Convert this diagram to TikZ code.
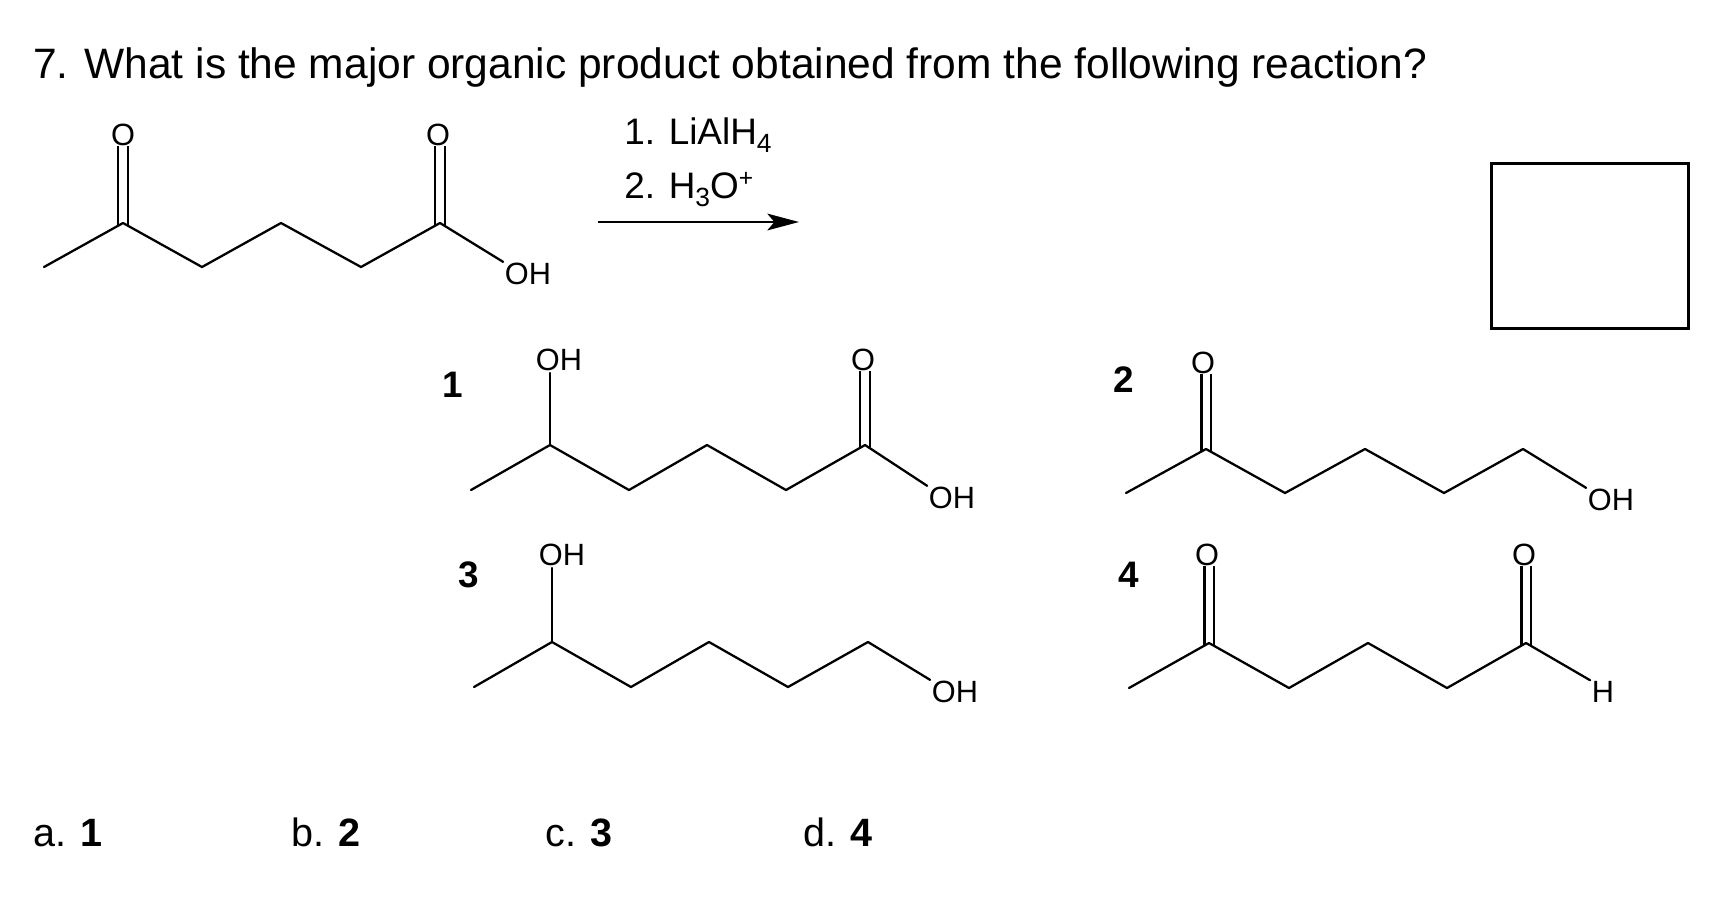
\documentclass[tikz,border=0pt]{standalone}
\usepackage{fontspec}
\setmainfont{Liberation Sans}
\usetikzlibrary{arrows.meta, positioning}
\newcommand{\lowsub}[1]{\raisebox{-5pt}{\fontsize{15}{15}\selectfont #1}}
\newcommand{\highsup}[1]{\raisebox{6.5pt}{\fontsize{14}{14}\selectfont #1}}
\tikzset{
    bond/.style={line width=1.3pt, line cap=round, line join=round, shorten >=1pt},
    dblbond/.style={line width=1.2pt, double, double distance=4pt, shorten <=-1pt},
    atomnode/.style={inner sep=0pt, font=\fontsize{17.5}{20}\selectfont},
    tagnode/.style={inner sep=0pt, font=\fontsize{21}{24}\selectfont\bfseries},
    titlenode/.style={inner sep=0pt, anchor=base west, font=\fontsize{24.2}{28}\selectfont},
    textnode/.style={inner sep=0pt, anchor=base west, font=\fontsize{22.5}{27}\selectfont},
    reagentnode/.style={inner sep=0pt, anchor=base west, font=\fontsize{21}{25}\selectfont}
}
\begin{document}
\begin{tikzpicture}[x=0.02cm, y=-0.02cm]
    \useasboundingbox (0,0) rectangle (1724,910);
    \node[titlenode] (title) at (33,78) {7. What is the major organic product obtained from the following reaction?};
    % starting material
    \coordinate (s1) at (44,267);
    \coordinate (s2) at (123,223);
    \coordinate (s3) at (202,267);
    \coordinate (s4) at (281,223);
    \coordinate (s5) at (361,267);
    \coordinate (s6) at (440,223);
    \node[atomnode] (so1) at (123,135) {O};
    \node[atomnode] (so2) at (438,135) {O};
    \node[atomnode] (soh) at (528,274) {OH};
    \draw[dblbond] (s2) -- (s2 |- so1.south);
    \draw[dblbond] (s6) -- (s6 |- so2.south);
    \draw[bond] (s1) -- (s2) -- (s3) -- (s4) -- (s5) -- (s6) -- (soh.north west);
    % reagents
    \node[reagentnode] (reagent1) at (624,144) {1. LiAlH\lowsub{4}};
    \node[reagentnode] (reagent2) at (624,198) {2. H\lowsub{3}O\highsup{+}};
    \coordinate (arrowstart) at (598,222);
    \coordinate (arrowend) at (799,222);
    \draw[line width=1.3pt, -{Stealth[length=18pt, width=9.5pt, inset=4pt]}] (arrowstart) -- (arrowend);
    % answer box
    \node[draw, line width=1.4pt, inner sep=0pt, minimum width=112pt, minimum height=94pt] (answerbox) at (1590,246) {};
    % product 1
    \node[tagnode] (tag1) at (453,385) {1};
    \coordinate (a1) at (471,490);
    \coordinate (a2) at (550,445);
    \coordinate (a3) at (629,490);
    \coordinate (a4) at (707,445);
    \coordinate (a5) at (786,490);
    \coordinate (a6) at (865,445);
    \node[atomnode] (aoh1) at (559,360) {OH};
    \node[atomnode] (ao) at (863,360) {O};
    \node[atomnode] (aoh2) at (952,498) {OH};
    \draw[bond] (a2) -- (a2 |- aoh1.south);
    \draw[dblbond] (a6) -- (a6 |- ao.south);
    \draw[bond] (a1) -- (a2) -- (a3) -- (a4) -- (a5) -- (a6) -- (aoh2.north west);
    % product 2
    \node[tagnode] (tag2) at (1124,380) {2};
    \coordinate (b1) at (1126,493);
    \coordinate (b2) at (1206,449);
    \coordinate (b3) at (1285,493);
    \coordinate (b4) at (1365,449);
    \coordinate (b5) at (1444,493);
    \coordinate (b6) at (1523,449);
    \node[atomnode] (bo) at (1203,363) {O};
    \node[atomnode] (boh) at (1611,500) {OH};
    \draw[dblbond] (b2) -- (b2 |- bo.south);
    \draw[bond] (b1) -- (b2) -- (b3) -- (b4) -- (b5) -- (b6) -- (boh.north west);
    % product 3
    \node[tagnode] (tag3) at (469,575) {3};
    \coordinate (c1) at (474,687);
    \coordinate (c2) at (552,642);
    \coordinate (c3) at (631,687);
    \coordinate (c4) at (709,642);
    \coordinate (c5) at (788,687);
    \coordinate (c6) at (868,642);
    \node[atomnode] (coh1) at (562,555) {OH};
    \node[atomnode] (coh2) at (955,692) {OH};
    \draw[bond] (c2) -- (c2 |- coh1.south);
    \draw[bond] (c1) -- (c2) -- (c3) -- (c4) -- (c5) -- (c6) -- (coh2.north west);
    % product 4
    \node[tagnode] (tag4) at (1129,575) {4};
    \coordinate (d1) at (1129,688);
    \coordinate (d2) at (1209,643);
    \coordinate (d3) at (1289,688);
    \coordinate (d4) at (1368,643);
    \coordinate (d5) at (1447,688);
    \coordinate (d6) at (1526,643);
    \node[atomnode] (do1) at (1207,555) {O};
    \node[atomnode] (do2) at (1524,555) {O};
    \node[atomnode] (dh) at (1603,692) {H};
    \draw[dblbond] (d2) -- (d2 |- do1.south);
    \draw[dblbond] (d6) -- (d6 |- do2.south);
    \draw[bond] (d1) -- (d2) -- (d3) -- (d4) -- (d5) -- (d6) -- (dh.north west);
    % choices
    \node[textnode] (choicea) at (33,846) {a. \textbf{1}};
    \node[textnode] (choiceb) at (291,846) {b. \textbf{2}};
    \node[textnode] (choicec) at (545,846) {c. \textbf{3}};
    \node[textnode] (choiced) at (803,846) {d. \textbf{4}};
\end{tikzpicture}
\end{document}
